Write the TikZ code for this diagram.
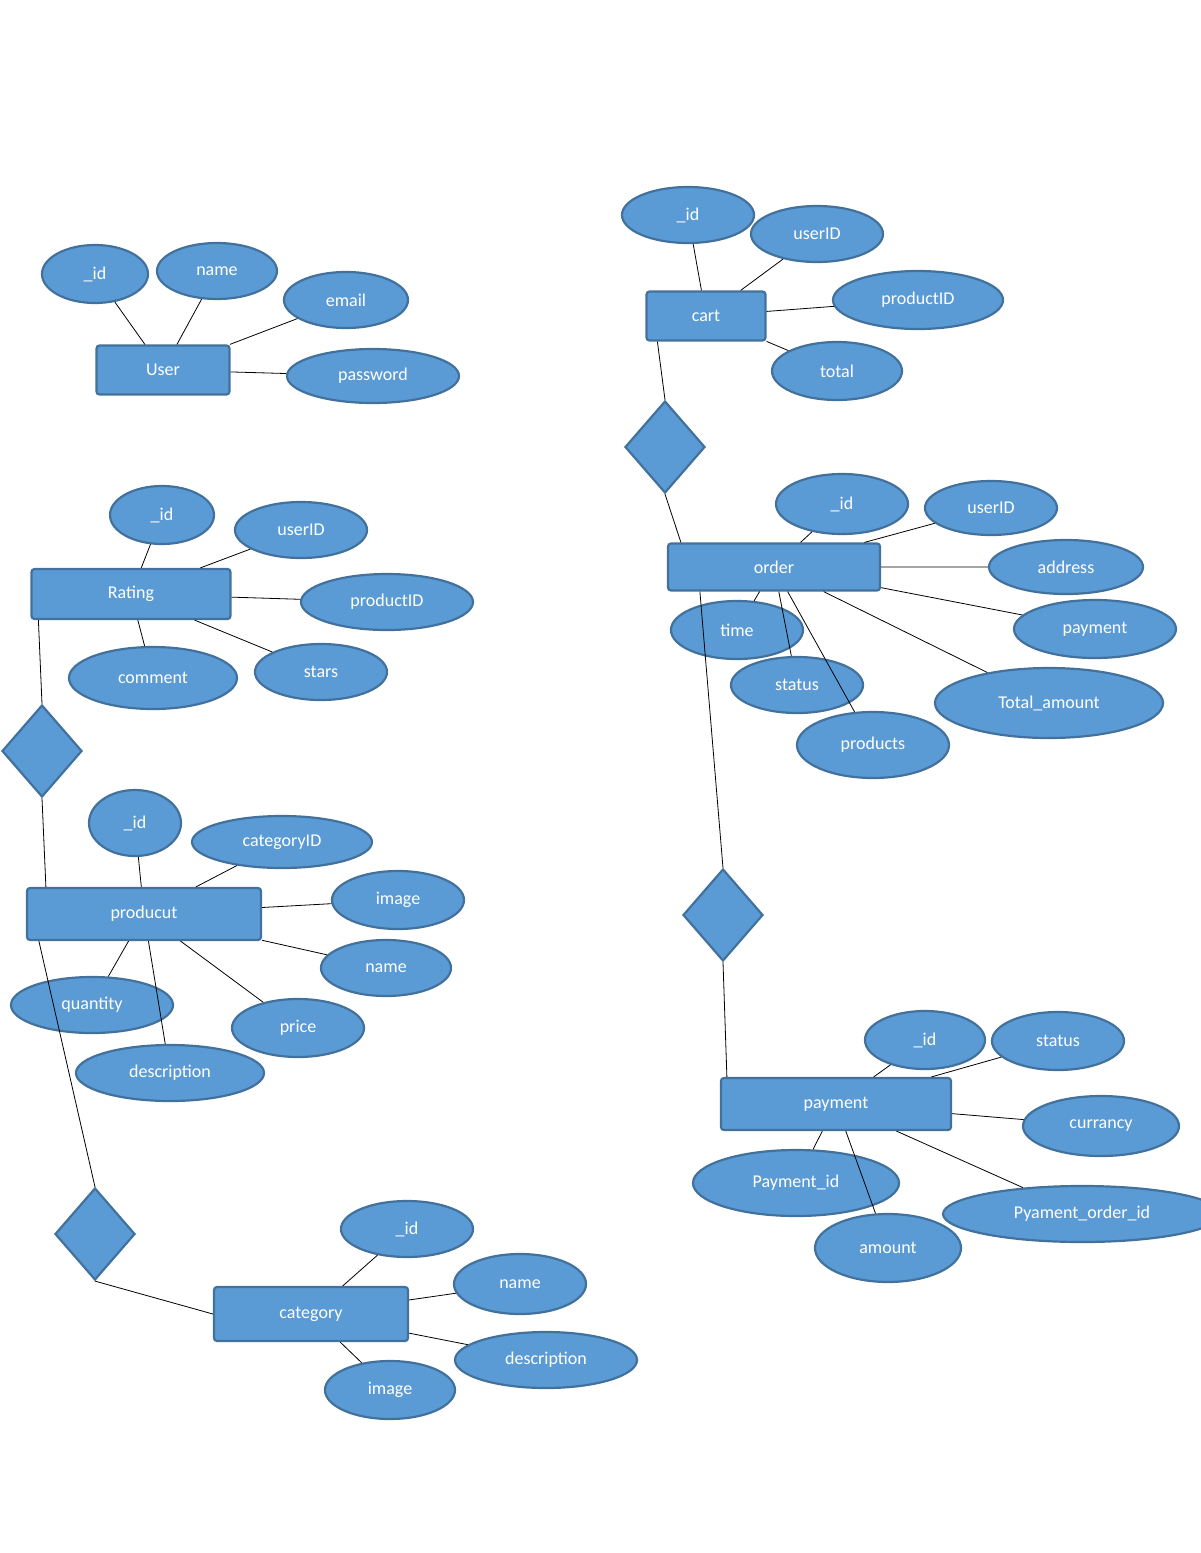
\documentclass[tikz,border=0pt]{standalone}
\usepackage{fontspec}
\setmainfont{Carlito}
\usetikzlibrary{shapes.geometric}
\definecolor{bfill}{HTML}{5B9BD5}
\definecolor{bdraw}{HTML}{41719C}
\tikzset{
 base/.style={fill=bfill,draw=bdraw,line width=2.2pt,text=white,font=\fontsize{18}{20}\selectfont,inner sep=0pt},
 ent/.style={base,rectangle,rounded corners=3pt},
 att/.style={base,ellipse},
 rel/.style={base,diamond},
 ln/.style={draw=black,line width=0.8pt}
}
\newcommand{\E}[5]{\node[ent,minimum width=#4,minimum height=#5] (#1) at #2 {#3};}
\newcommand{\A}[5]{\node[att,minimum width=#4,minimum height=#5] (#1) at #2 {#3};}
\newcommand{\R}[2]{\node[rel,minimum width=80pt,minimum height=92pt,shape aspect=0.87] (#1) at #2 {};}
\begin{document}
\begin{tikzpicture}[x=1pt,y=-1pt]
\useasboundingbox (0,0) rectangle (1200,1553);
% User
\E{user}{(163,370)}{User}{133pt}{49pt}
\A{uid}{(95,274)}{\_id}{106pt}{58pt}
\A{uname}{(217,271)}{name}{120pt}{56pt}
\A{uemail}{(346,300)}{email}{124pt}{56pt}
\A{upass}{(373,376)}{password}{172pt}{54pt}
% Rating
\E{rating}{(131,594)}{Rating}{199pt}{50pt}
\A{rid}{(162,515)}{\_id}{104pt}{58pt}
\A{ruser}{(301,530)}{userID}{132pt}{56pt}
\A{rprod}{(387,602)}{productID}{172pt}{56pt}
\A{rstars}{(321,672)}{stars}{132pt}{56pt}
\A{rcomm}{(153,678)}{comment}{168pt}{62pt}
\R{d1}{(42,751)}
% producut
\E{prod}{(144,914)}{producut}{234pt}{52pt}
\A{pid}{(135,823)}{\_id}{92pt}{66pt}
\A{pcat}{(282,842)}{categoryID}{180pt}{52pt}
\A{pimg}{(398,900)}{image}{132pt}{58pt}
\A{pname}{(386,968)}{name}{130pt}{56pt}
\A{pprice}{(298,1028)}{price}{132pt}{58pt}
\A{pdesc}{(170,1073)}{description}{188pt}{56pt}
\A{pqty}{(92,1005)}{quantity}{162pt}{56pt}
\R{d2}{(95,1234)}
% category
\E{cat}{(311,1314)}{category}{194pt}{54pt}
\A{cid}{(407,1229)}{\_id}{132pt}{56pt}
\A{cname}{(520,1284)}{name}{132pt}{60pt}
\A{cdesc}{(546,1360)}{description}{182pt}{56pt}
\A{cimg}{(390,1390)}{image}{130pt}{58pt}
% cart
\E{cart}{(706,316)}{cart}{119pt}{49pt}
\A{kid}{(688,215)}{\_id}{132pt}{56pt}
\A{kuser}{(817,234)}{userID}{132pt}{56pt}
\A{kprod}{(918,300)}{productID}{170pt}{58pt}
\A{ktot}{(837,371)}{total}{130pt}{58pt}
\R{d3}{(665,447)}
% order
\E{ord}{(774,567)}{order}{212pt}{47pt}
\A{oid}{(842,504)}{\_id}{132pt}{60pt}
\A{ouser}{(991,508)}{userID}{132pt}{54pt}
\A{oaddr}{(1066,567)}{address}{154pt}{54pt}
\A{opay}{(1095,629)}{payment}{162pt}{58pt}
\A{otot}{(1049,703)}{Total\_amount}{228pt}{70pt}
\A{oprod}{(873,745)}{products}{152pt}{66pt}
\A{ostat}{(797,685)}{status}{132pt}{56pt}
\A{otime}{(737,630)}{time}{132pt}{58pt}
\R{d4}{(723,915)}
% payment
\E{pay}{(836,1104)}{payment}{230pt}{52pt}
\A{yid}{(925,1040)}{\_id}{120pt}{58pt}
\A{ystat}{(1058,1041)}{status}{132pt}{58pt}
\A{ycur}{(1101,1126)}{currancy}{156pt}{60pt}
\A{yord}{(1082,1214)}{Pyament\_order\_id}{278pt}{56pt}
\A{yamt}{(888,1248)}{amount}{146pt}{68pt}
\A{ypid}{(796,1183)}{Payment\_id}{206pt}{66pt}
% connectors
\begin{scope}[on background layer/.style={}]
\end{scope}
\path[ln] (uid) -- (user) (uname) -- (user) (uemail) -- (user) (upass) -- (user);
\path[ln] (rid) -- (rating) (ruser) -- (rating) (rprod) -- (rating) (rstars) -- (rating) (rcomm) -- (rating);
\path[ln] ([xshift=8pt]rating.south west) -- (d1.north) (d1.south) -- ([xshift=20pt]prod.north west);
\path[ln] (pid) -- (prod) (pcat) -- (prod) (pimg) -- (prod) (pname) -- (prod) (pprice) -- (prod) (pdesc) -- (prod) (pqty) -- (prod);
\path[ln] ([xshift=13pt]prod.south west) -- (d2.north) (d2.south) -- (cat.west);
\path[ln] (cid) -- (cat) (cname) -- (cat) (cdesc) -- (cat) (cimg) -- (cat);
\path[ln] (kid) -- (cart) (kuser) -- (cart) (kprod) -- (cart) (ktot) -- (cart);
\path[ln] ([xshift=12pt]cart.south west) -- (d3.north) (d3.south) -- ([xshift=14pt]ord.north west);
\path[ln] (oid) -- (ord) (ouser) -- (ord) (oaddr) -- (ord) (opay) -- (ord) (otot) -- (ord) (oprod) -- (ord) (ostat) -- (ord) (otime) -- (ord);
\path[ln] ([xshift=33pt]ord.south west) -- (d4.north) (d4.south) -- ([xshift=7pt]pay.north west);
\path[ln] (yid) -- (pay) (ystat) -- (pay) (ycur) -- (pay) (yord) -- (pay) (yamt) -- (pay) (ypid) -- (pay);
\end{tikzpicture}
\end{document}
